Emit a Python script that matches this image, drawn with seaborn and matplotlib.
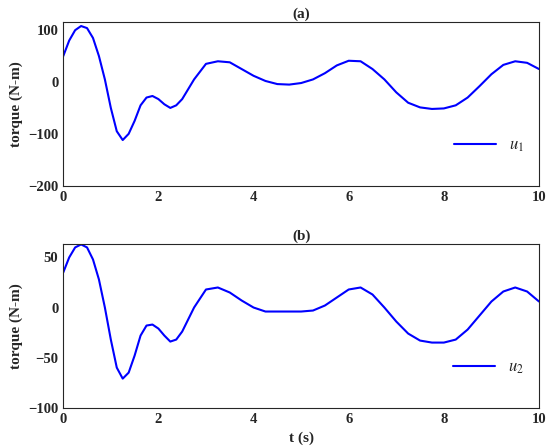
import seaborn as sns
import numpy as np
import pandas as pd
import matplotlib.pyplot as plt

t = np.concatenate([np.arange(0, 2.5, 0.125), np.arange(2.5, 10.01, 0.25)])
u1 = [50, 80, 100, 108, 104, 85, 50, 5, -50, -95, -112, -100, -75, -45, -30, -27, -33, -43, -50, -45,
      -33, 5, 35, 40, 38, 25, 12, 2, -4, -5,
      -2, 5, 17, 32, 41, 40, 25, 5, -20, -40, -49, -52, -51, -45, -30, -8, 15, 33, 40, 37, 25]
u2 = [35, 50, 60, 63, 60, 48, 28, 0, -32, -60, -71, -65, -48, -28, -18, -17, -21, -28, -34, -32,
      -24, 0, 18, 20, 15, 7, 0, -4, -4, -4,
      -4, -3, 2, 10, 18, 20, 13, 0, -14, -26, -33, -35, -35, -32, -22, -8, 6, 16, 20, 16, 6]

sns.set_style("white")
plt.rcParams['font.family'] = ['Liberation Serif', 'DejaVu Serif']
plt.rcParams['mathtext.fontset'] = 'stix'

fig, axes = plt.subplots(2, 1, figsize=(5.5, 4.48), dpi=100)
panels = [(u1, '$u_1$', '(a)', (-200, 115), [-200, -100, 0, 100]),
          (u2, '$u_2$', '(b)', (-100, 63), [-100, -50, 0, 50])]
for ax, (u, lab, title, ylim, yt) in zip(axes, panels):
    df = pd.DataFrame({'t': t, 'u': u})
    sns.lineplot(data=df, x='t', y='u', ax=ax, color='#0000ff', linewidth=1.5, label=lab)
    ax.set_xlim(0, 10)
    ax.set_ylim(*ylim)
    ax.set_yticks(yt)
    ax.set_xticks(range(0, 11, 2))
    ax.set_title(title, fontweight='bold', fontsize=11, pad=3)
    ax.set_ylabel('torque (N-m)', fontweight='bold', fontsize=11)
    ax.set_xlabel('')
    ax.tick_params(labelsize=10.5, direction='in', length=3)
    for lbl in ax.get_xticklabels() + ax.get_yticklabels():
        lbl.set_fontweight('bold')
    for s in ax.spines.values():
        s.set_linewidth(0.8)
    ax.legend(loc='lower right', bbox_to_anchor=(1.0, 0.1), frameon=False, fontsize=12, handlelength=2.5)
axes[1].set_xlabel('t (s)', fontweight='bold', fontsize=11)

plt.subplots_adjust(left=0.115, right=0.98, top=0.95, bottom=0.09, hspace=0.36)
plt.savefig('out.png')
